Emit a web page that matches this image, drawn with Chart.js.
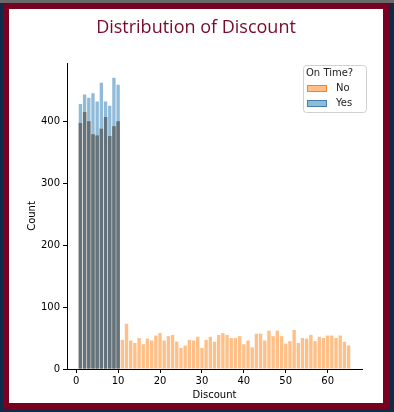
<!DOCTYPE html>
<html>
<head>
<meta charset="utf-8">
<script src="https://cdn.jsdelivr.net/npm/chart.js@4.4.0/dist/chart.umd.min.js"></script>
<style>
  html, body { margin: 0; padding: 0; }
  body { width: 394px; height: 412px; background: #0c2c47; position: relative; overflow: hidden; }
  #topStrip { position: absolute; left: 0; top: 0; width: 394px; height: 3px; background: #6a6a6a; }
  #frame { position: absolute; left: 3px; top: 3px; width: 374px; height: 394px; border: 6px solid #780020; background: #fff; }
  #title { position: absolute; left: 0; top: 4px; width: 374px; text-align: center; font: 18px "Open Sans", sans-serif; line-height: 26px; color: #7a0a2a; }
  canvas { position: absolute; left: 0; top: 0; }
</style>
</head>
<body>
<div id="topStrip"></div>
<div id="frame">
  <canvas id="discountChart" width="374" height="394"></canvas>
  <div id="title">Distribution of Discount</div>
</div>
<script>
// Discount values (one bar each)
const discountValues = [
  1, 2, 3, 4, 5, 6, 7, 8, 9, 10,
  11, 12, 13, 14, 15, 16, 17, 18, 19, 20,
  21, 22, 23, 24, 25, 26, 27, 28, 29, 30,
  31, 32, 33, 34, 35, 36, 37, 38, 39, 40,
  41, 42, 43, 44, 45, 46, 47, 48, 49, 50,
  51, 52, 53, 54, 55, 56, 57, 58, 59, 60,
  61, 62, 63, 64, 65
];

// On Time? = No
const noCounts = [
  397, 415, 400, 379, 377, 388, 407, 376, 392, 400,
  47, 73, 46, 42, 50, 40, 49, 46, 54, 58,
  46, 53, 55, 44, 34, 38, 47, 46, 52, 34,
  47, 52, 44, 55, 58, 55, 50, 50, 53, 40,
  46, 35, 57, 57, 46, 62, 53, 62, 53, 41,
  45, 63, 42, 50, 49, 55, 45, 52, 50, 54,
  54, 50, 54, 44, 38
];

// On Time? = Yes (only discounts 1-10)
const yesDiscounts = [1, 2, 3, 4, 5, 6, 7, 8, 9, 10];
const yesCounts = [428, 443, 438, 445, 432, 462, 432, 425, 470, 459];

const xTicks = [0, 10, 20, 30, 40, 50, 60];
const yTicks = [0, 100, 200, 300, 400];
const seriesLabels = ['No', 'Yes'];
const legendTitle = 'On Time?';

const noColor = 'rgba(255,127,14,0.5)';
const yesColor = 'rgba(31,119,180,0.5)';
const overlapColor = '#64737b';

const noPoints = discountValues.map((d, i) => ({x: d, y: noCounts[i]}));
const yesPoints = yesDiscounts.map((d, i) => ({x: d, y: yesCounts[i]}));
// where both layers overlap the bar looks dark grey
const overlapPoints = yesDiscounts.map((d, i) => ({
    x: d,
    y: Math.min(yesCounts[i], noCounts[discountValues.indexOf(d)])
}));

const tickFont = {family: 'DejaVu Sans', size: 10};

/**
 * Boxed legend in the upper right corner
 */
const boxLegend = {
    id: 'boxLegend',
    afterDraw(chart) {
        const ctx = chart.ctx;
        const x = 294, y = 56, w = 63, h = 47;
        ctx.save();
        ctx.fillStyle = 'rgba(255,255,255,0.8)';
        ctx.strokeStyle = '#d0d0d0';
        ctx.lineWidth = 1;
        ctx.beginPath();
        ctx.roundRect(x + 0.5, y + 0.5, w, h, 3);
        ctx.fill();
        ctx.stroke();

        ctx.fillStyle = '#222';
        ctx.font = '10px "DejaVu Sans"';
        ctx.textBaseline = 'middle';
        ctx.textAlign = 'left';
        ctx.fillText(legendTitle, x + 3, y + 8);

        const swatches = [noColor, yesColor];
        const edges = ['rgba(230,110,10,0.7)', 'rgba(31,100,160,0.7)'];
        seriesLabels.forEach((label, i) => {
            const ry = y + 23 + i * 15;
            ctx.fillStyle = '#fff';
            ctx.fillRect(x + 4, ry - 3, 20, 7);
            ctx.fillStyle = swatches[i];
            ctx.fillRect(x + 4, ry - 3, 20, 7);
            ctx.strokeStyle = edges[i];
            ctx.strokeRect(x + 4.5, ry - 2.5, 19, 6);
            ctx.fillStyle = '#222';
            ctx.fillText(label, x + 33, ry);
        });
        ctx.restore();
    }
};

new Chart(document.getElementById('discountChart'), {
    type: 'bar',
    data: {
        datasets: [
            {
                label: seriesLabels[0],
                data: noPoints,
                backgroundColor: noColor,
                grouped: false,
                order: 3
            },
            {
                label: seriesLabels[1],
                data: yesPoints,
                backgroundColor: yesColor,
                grouped: false,
                order: 2
            },
            {
                label: 'overlap',
                data: overlapPoints,
                backgroundColor: overlapColor,
                grouped: false,
                order: 1
            }
        ]
    },
    options: {
        responsive: false,
        animation: false,
        barPercentage: 1,
        categoryPercentage: 0.8,
        layout: {padding: {top: 54, right: 21, left: 17, bottom: 0}},
        plugins: {
            legend: {display: false},
            tooltip: {enabled: false},
            title: {display: false}
        },
        scales: {
            x: {
                type: 'linear',
                offset: false,
                min: -2.2,
                max: 68.2,
                afterBuildTicks: s => { s.ticks = xTicks.map(v => ({value: v})); },
                afterFit: s => { s.height = 34; },
                grid: {offset: false, drawOnChartArea: false, drawTicks: true, tickLength: 4, color: '#000'},
                border: {display: true, color: '#000', width: 1},
                ticks: {color: '#000', font: tickFont, padding: 2, maxRotation: 0},
                title: {display: true, text: 'Discount', color: '#000', font: {family: 'DejaVu Sans', size: 10}, padding: {top: 0, bottom: 2}}
            },
            y: {
                min: 0,
                max: 494,
                afterBuildTicks: s => { s.ticks = yTicks.map(v => ({value: v})); },
                afterFit: s => { s.width = 41; },
                grid: {drawOnChartArea: false, drawTicks: true, tickLength: 4, color: '#000'},
                border: {display: true, color: '#000', width: 1},
                ticks: {color: '#000', font: tickFont, padding: 3},
                title: {display: true, text: 'Count', color: '#000', font: {family: 'DejaVu Sans', size: 10}, padding: {top: 0, bottom: 0}}
            }
        }
    },
    plugins: [boxLegend]
});
</script>
</body>
</html>
